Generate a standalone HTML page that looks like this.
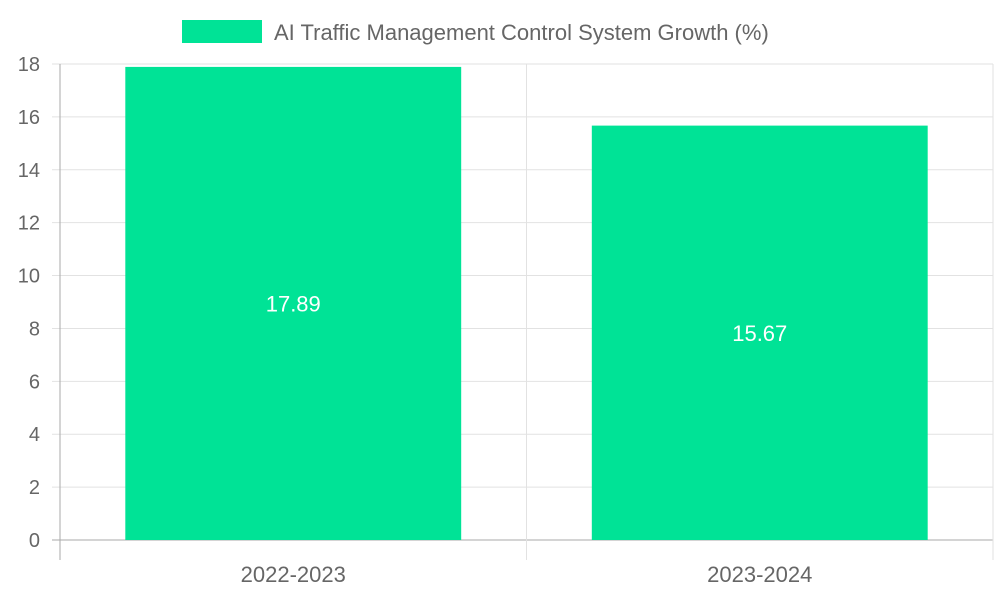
<!DOCTYPE html>
<html><head><meta charset="utf-8"><style>
html,body{margin:0;padding:0;background:#fff;}
svg{display:block;font-family:"Liberation Sans",sans-serif;}
</style></head><body>
<svg id="chart" width="1000" height="600">
<g id="grid"></g>
<g id="bars"></g>
<g id="axes"></g>
<g>
<rect x="182" y="20" width="80" height="23" fill="#00e396"/>
<text x="274" y="40" font-size="22" fill="#666">AI Traffic Management Control System Growth (%)</text>
</g>
</svg>
<script>
const categories = ["2022-2023","2023-2024"];
const values = [17.89, 15.67];
const yTicks = [0,2,4,6,8,10,12,14,16,18];
const NS="http://www.w3.org/2000/svg";
const L=60,R=993,T=64,B=540,yMax=18;
const y=v=>B-(v/yMax)*(B-T);
const cw=(R-L)/categories.length;
const xc=i=>L+cw*(i+0.5);
function mk(tag,attrs,parent,txt){const e=document.createElementNS(NS,tag);for(const k in attrs)e.setAttribute(k,attrs[k]);if(txt!==undefined)e.textContent=txt;document.getElementById(parent).appendChild(e);return e;}
yTicks.forEach(t=>{
  const g=mk('line',{x1:52,x2:R,y1:y(t),y2:y(t),stroke:t===0?'#aaa':'#e2e2e2','stroke-width':1},'grid');
  
  
  const lb=mk('text',{x:40,y:y(t)+7,'font-size':20,fill:'#666','text-anchor':'end'},'axes',String(t));
  
  
});
for(let i=0;i<=categories.length;i++){
  const x=L+cw*i;
  const g=mk('line',{x1:x,x2:x,y1:T,y2:560,stroke:i===0?'#aaa':'#e2e2e2','stroke-width':1},'grid');
  
  
}
categories.forEach((c,i)=>{
  const bw=cw*0.72;
  const b=mk('rect',{x:xc(i)-bw/2,y:y(values[i]),width:bw,height:B-y(values[i]),fill:'#00e396'},'bars');
  
  
  const v=mk('text',{x:xc(i),y:(y(values[i])+B)/2+8,'font-size':22,fill:'#fff','text-anchor':'middle'},'bars',values[i].toFixed(2));
  
  
  const xl=mk('text',{x:xc(i),y:582,'font-size':22,fill:'#666','text-anchor':'middle'},'axes',c);
  
  
});
</script>
</body></html>
